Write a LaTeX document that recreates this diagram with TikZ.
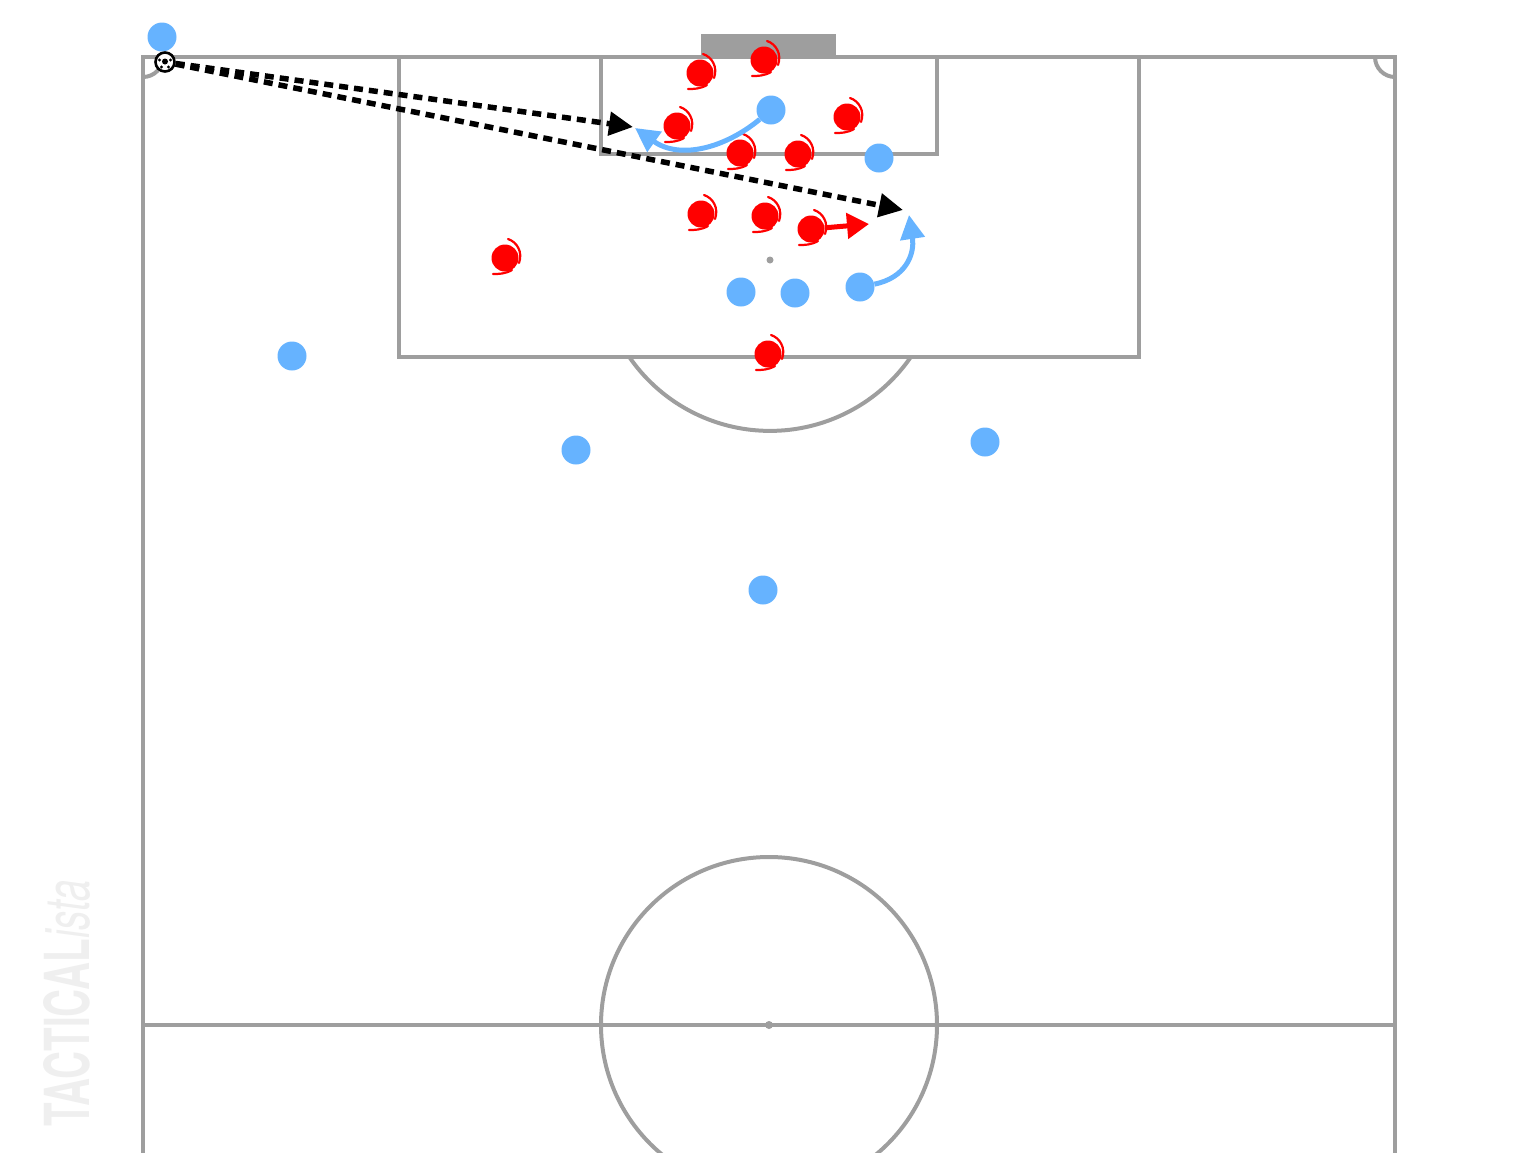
\documentclass[tikz,border=0pt]{standalone}
\usepackage{fontspec}
\setsansfont{TeX Gyre Heros}
\usetikzlibrary{arrows.meta,calc}
\definecolor{pline}{HTML}{9E9E9E}
\definecolor{pblue}{HTML}{66B3FF}
\definecolor{pred}{HTML}{FF0000}
\definecolor{wmk}{HTML}{EFEFEF}
\tikzset{
 pitch/.style={draw=pline, line width=4pt},
 bluep/.style={circle, fill=pblue, minimum size=29pt, inner sep=0pt},
 redp/.style={circle, fill=pred, minimum size=27pt, inner sep=0pt},
 tail/.style={draw=pred, line width=2.2pt, line cap=round},
 pass/.style={line width=5.5pt, dash pattern=on 9pt off 6pt, -{Triangle[length=24pt,width=23pt]}},
 bluerun/.style={draw=pblue, line width=5pt, -{Triangle[length=24pt,width=24pt]}},
 redrun/.style={draw=pred, line width=5pt, -{Triangle[length=22pt,width=25pt]}},
}
\begin{document}
\begin{tikzpicture}[x=1pt,y=-1pt]
\useasboundingbox (0,0) rectangle (1536,1152);
\clip (0,0) rectangle (1536,1152);
% watermark
\node[text=wmk, rotate=90, inner sep=0pt, font=\sffamily] (mark) at (67,1003)
  {\resizebox{247pt}{46pt}{\textbf{TACTICAL}\textit{ista}}};
% pitch
\fill[pline] (701,34) rectangle (836,57);
\draw[pitch] (143,1200) -- (143,57) -- (1395,57) -- (1395,1200);
\draw[pitch] (143,1025) -- (1395,1025);
\draw[pitch] (399,57) -- (399,357) -- (1139,357) -- (1139,57);
\draw[pitch] (601,57) -- (601,154) -- (937,154) -- (937,57);
\draw[pitch] (910.8,357) arc[start angle=34.6, end angle=145.4, radius=171];
\draw[pitch] (769,1025) circle[radius=168];
\draw[pitch] (163,57) arc[start angle=0, end angle=90, radius=20];
\draw[pitch] (1395,77) arc[start angle=90, end angle=180, radius=20];
\fill[pline] (770,260) circle[radius=3.5];
\fill[pline] (769,1025) circle[radius=4];
% blue players
\node[bluep] (b1) at (162,37) {};
\node[bluep] (b2) at (771,110) {};
\node[bluep] (b3) at (879,158) {};
\node[bluep] (b4) at (741,292) {};
\node[bluep] (b5) at (795,293) {};
\node[bluep] (b6) at (860,287) {};
\node[bluep] (b7) at (292,356) {};
\node[bluep] (b8) at (576,450) {};
\node[bluep] (b9) at (985,442) {};
\node[bluep] (b10) at (763,590) {};
% red players
\node[redp] (r1) at (700,73) {};
\node[redp] (r2) at (764,60) {};
\node[redp] (r3) at (677,126) {};
\node[redp] (r4) at (847,117) {};
\node[redp] (r5) at (740,153) {};
\node[redp] (r6) at (798,154) {};
\node[redp] (r7) at (701,214) {};
\node[redp] (r8) at (765,216) {};
\node[redp] (r9) at (811,229) {};
\node[redp] (r10) at (505,258) {};
\node[redp] (r11) at (768,354) {};
\foreach \i in {1,...,11}{
  \draw[tail] ($(r\i)+(3,-19)$) .. controls ($(r\i)+(12,-16)$) and ($(r\i)+(18,-6)$) .. ($(r\i)+(14,5)$);
  \draw[tail] ($(r\i)+(-12,16)$) .. controls ($(r\i)+(-6,16)$) and ($(r\i)+(0,16)$) .. ($(r\i)+(7,12)$);
}
% ball
\node[circle, draw=black, fill=white, line width=2.6pt, minimum size=19pt, inner sep=0pt] (ball) at (165,62) {};
\fill[black] (165,61.5) circle[radius=3];
\fill[black] (159.5,60) circle[radius=1.6] (170.5,60) circle[radius=1.6] (161.5,67) circle[radius=1.6] (168.5,67) circle[radius=1.6];
% targets
\coordinate (t1) at (633,127);
\coordinate (t2) at (903,210);
\coordinate (t3) at (635,128);
\coordinate (t4) at (909,215);
\coordinate (t5) at (869,224);
% passes
\draw[pass] (ball) -- (t1);
\draw[pass] (ball) -- (t2);
% runs
\draw[bluerun] (b2) .. controls (725,148) and (680,160) .. (t3);
\draw[bluerun] (b6) .. controls (905,278) and (915,255) .. (t4);
\draw[redrun] (r9) -- (t5);
\end{tikzpicture}
\end{document}
